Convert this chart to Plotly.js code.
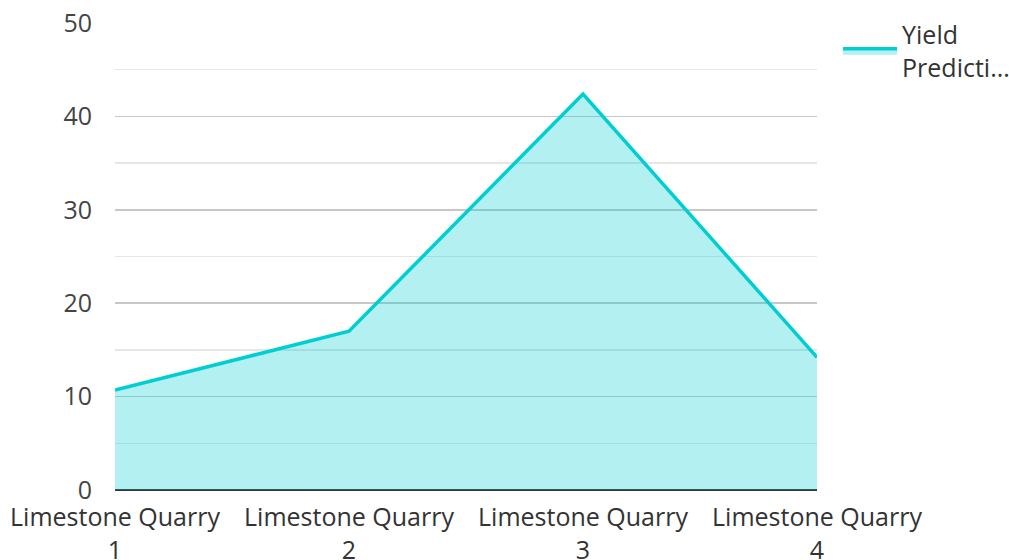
<!DOCTYPE html>
<html><head><meta charset="utf-8">
<script src="https://cdn.plot.ly/plotly-3.0.1.min.js"></script>
<style>html,body{margin:0;padding:0;background:#fff}#chart{width:1009px;height:560px}</style>
</head><body><div id="chart"></div>
<script>
const categories = ["Limestone Quarry<br>1", "Limestone Quarry<br>2", "Limestone Quarry<br>3", "Limestone Quarry<br>4"];
const yieldValues = [10.7, 17.0, 42.4, 14.2];
const seriesName = "Yield<br>Predicti...";

const trace = {
  x: categories, y: yieldValues, type: "scatter", mode: "lines",
  name: seriesName, fill: "tozeroy",
  fillcolor: "rgba(0,206,209,0.3)",
  line: {color: "#00CED1", width: 3.5}
};
const layout = {
  width: 1009, height: 560,
  margin: {l: 115, r: 192, t: 23, b: 70, autoexpand: false},
  paper_bgcolor: "#fff", plot_bgcolor: "#fff",
  font: {family: "Open Sans", size: 25, color: "#444"},
  showlegend: true,
  legend: {x: 1.03, y: 1.024, xanchor: "left", yanchor: "top", itemwidth: 54, font: {size: 25, color: "#333"}, bgcolor: "rgba(0,0,0,0)"},
  xaxis: {type: "category", range: [0, 3], automargin: false, showgrid: false, zeroline: false, showline: false, ticks: "", ticklabelstandoff: 10, tickfont: {size: 25, color: "#333"}, fixedrange: true},
  yaxis: {range: [0, 50], dtick: 10, automargin: false, showgrid: true, gridcolor: "#c8c8c8", gridwidth: 1.5,
    minor: {dtick: 5, showgrid: true, gridcolor: "#e6e6e6", gridwidth: 1.5},
    zeroline: true, zerolinecolor: "#333", zerolinewidth: 2, showline: false, ticks: "", ticklen: 0, ticklabelstandoff: 22,
    tickfont: {size: 25, color: "#444"}, fixedrange: true}
};
Plotly.newPlot("chart", [trace], layout, {displayModeBar: false, staticPlot: true});
</script></body></html>
